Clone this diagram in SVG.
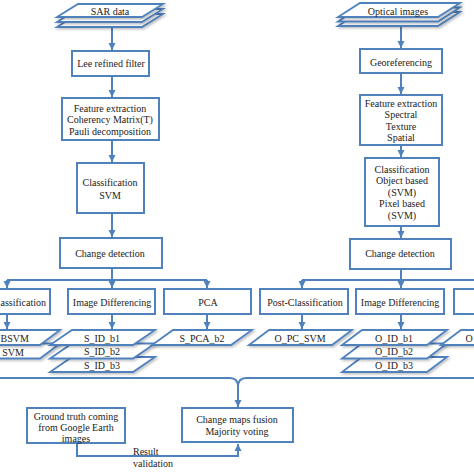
<svg xmlns="http://www.w3.org/2000/svg" width="474" height="474" viewBox="0 0 474 474">
<defs>
<marker id="ah" markerWidth="8" markerHeight="8" refX="7" refY="4" orient="auto" markerUnits="userSpaceOnUse"><path d="M0,0.5 L7,4 L0,7.5 Z" fill="#4f81bd"/></marker>
<filter id="sh" x="-10%" y="-20%" width="130%" height="160%"><feDropShadow dx="1.5" dy="1.5" stdDeviation="1" flood-color="#000" flood-opacity="0.25"/></filter>
</defs>
<style>
.b{fill:#fff;stroke:#4f81bd;stroke-width:2}
.p{fill:#fff;stroke:#4f81bd;stroke-width:1.8;filter:url(#sh)}
.c{fill:none;stroke:#4f81bd;stroke-width:2}
.a{fill:none;stroke:#4f81bd;stroke-width:2;marker-end:url(#ah)}
text{font-family:"Liberation Serif","Times New Roman",serif;font-size:10px;fill:#222;text-anchor:middle}
</style>
<rect width="474" height="474" fill="#fff"/>

<g id="connectors">
<path class="a" d="M112,27 V50"/>
<path class="a" d="M112,76 V97"/>
<path class="a" d="M112,140 V162"/>
<path class="a" d="M112,213 V237"/>
<path class="c" d="M112,268 V280 M7,280 H207"/>
<path class="a" d="M7,280 V288"/>
<path class="a" d="M112,280 V288"/>
<path class="a" d="M207,280 V288"/>
<path class="a" d="M7,314 V329"/>
<path class="a" d="M112,314 V329"/>
<path class="a" d="M207,314 V329"/>
<path class="a" d="M401,26 V48"/>
<path class="a" d="M401,73 V94"/>
<path class="a" d="M401,145 V157"/>
<path class="a" d="M401,226 V238"/>
<path class="c" d="M401,269 V280 M302,280 H480"/>
<path class="a" d="M302,280 V288"/>
<path class="a" d="M401,280 V288"/>
<path class="a" d="M498,280 V288"/>
<path class="a" d="M302,314 V329"/>
<path class="a" d="M401,314 V329"/>
<path class="c" d="M0,378 H230 Q238,378 238,387 M474,378 H246 Q238,378 238,387"/>
<path class="a" d="M238,386 V407"/>
<path class="a" d="M77,443 V456 H238 V444"/>
</g>

<g id="sar-data">
<polygon class="p" points="78,14 163,14 142,27 57,27"/>
<polygon class="p" points="78,9 163,9 142,22 57,22"/>
<polygon class="p" points="78,4 163,4 142,17 57,17"/>
<text x="110" y="15">SAR data</text>
</g>
<g id="optical-images">
<polygon class="p" points="360,12 460,12 438,26 338,26"/>
<polygon class="p" points="360,7.5 460,7.5 438,21.5 338,21.5"/>
<polygon class="p" points="360,3 460,3 438,17 338,17"/>
<text x="398" y="14.5">Optical images</text>
</g>

<g id="lee-filter"><rect class="b" x="72" y="51" width="77" height="25"/><text x="111" y="66.5">Lee refined filter</text></g>
<g id="sar-features"><rect class="b" x="62" y="98" width="97" height="42"/>
<text x="110" y="111.5">Feature extraction</text><text x="110" y="123">Coherency Matrix(T)</text><text x="110" y="134.5">Pauli decomposition</text></g>
<g id="sar-classification"><rect class="b" x="77" y="163" width="67" height="50"/>
<text x="110" y="185.5">Classification</text><text x="110" y="198.5">SVM</text></g>
<g id="sar-change"><rect class="b" x="60" y="238" width="102" height="30"/><text x="110" y="256.5">Change detection</text></g>
<g id="sar-postclass"><rect class="b" x="-38" y="289" width="88" height="25"/><text x="0.5" y="305.5" style="text-anchor:start">assification</text></g>
<g id="sar-imgdiff"><rect class="b" x="68" y="289" width="87" height="25"/><text x="112" y="305.5">Image Differencing</text></g>
<g id="sar-pca"><rect class="b" x="164" y="289" width="87" height="25"/><text x="208" y="305.5">PCA</text></g>

<g id="sar-pc-out">
<polygon class="p" points="-23,343.5 60,343.5 40,358.5 -43,358.5"/>
<polygon class="p" points="-23,330 60,330 40,345 -43,345"/>
<text x="0.5" y="341.5" style="text-anchor:start">BSVM</text>
<text x="24" y="355.5" style="text-anchor:end">SVM</text>
</g>
<g id="sar-id-out">
<polygon class="p" points="72,357 155,357 133,372 50,372"/>
<polygon class="p" points="72,343.5 155,343.5 133,358.5 50,358.5"/>
<polygon class="p" points="72,330 155,330 133,345 50,345"/>
<text x="102" y="341.5">S_ID_b1</text><text x="102" y="355">S_ID_b2</text><text x="102" y="368.5">S_ID_b3</text>
</g>
<g id="sar-pca-out">
<polygon class="p" points="173,330 252,330 231,345 152,345"/>
<text x="202" y="341.5">S_PCA_b2</text>
</g>

<g id="georef"><rect class="b" x="360" y="49" width="82" height="24"/><text x="401" y="65.5">Georeferencing</text></g>
<g id="opt-features"><rect class="b" x="360" y="95" width="82" height="50"/>
<text x="401" y="106.5">Feature extraction</text><text x="401" y="118">Spectral</text><text x="401" y="129.5">Texture</text><text x="401" y="141">Spatial</text></g>
<g id="opt-classification"><rect class="b" x="365" y="158" width="74" height="68"/>
<text x="402" y="172.5">Classification</text><text x="402" y="184">Object based</text><text x="402" y="195.5">(SVM)</text><text x="402" y="207">Pixel based</text><text x="402" y="218.5">(SVM)</text></g>
<g id="opt-change"><rect class="b" x="350" y="239" width="101" height="30"/><text x="400" y="256.5">Change detection</text></g>
<g id="opt-postclass"><rect class="b" x="260" y="289" width="88" height="25"/><text x="305" y="305.5">Post-Classification</text></g>
<g id="opt-imgdiff"><rect class="b" x="356" y="289" width="88" height="25"/><text x="400" y="305.5">Image Differencing</text></g>
<g id="opt-third"><rect class="b" x="454" y="289" width="88" height="25"/></g>

<g id="opt-pc-out">
<polygon class="p" points="269,330 352,330 332,345 249,345"/>
<text x="300" y="341.5">O_PC_SVM</text>
</g>
<g id="opt-id-out">
<polygon class="p" points="362,357 447,357 427,372 342,372"/>
<polygon class="p" points="362,343.5 447,343.5 427,358.5 342,358.5"/>
<polygon class="p" points="362,330 447,330 427,345 342,345"/>
<text x="394" y="341.5">O_ID_b1</text><text x="394" y="355">O_ID_b2</text><text x="394" y="368.5">O_ID_b3</text>
</g>
<g id="opt-third-out">
<polygon class="p" points="461,330 546,330 526,345 441,345"/>
<text x="465.5" y="341.5" style="text-anchor:start">O</text>
</g>

<g id="ground-truth"><rect class="b" x="27" y="408" width="98" height="35"/>
<text x="76" y="419.5">Ground truth coming</text><text x="76" y="431">from Google Earth</text><text x="76" y="442">images</text></g>
<g id="fusion"><rect class="b" x="182" y="408" width="111" height="34"/>
<text x="237" y="422.5">Change maps fusion</text><text x="237" y="434.5">Majority voting</text></g>
<g id="validation-label">
<text x="133" y="454.5" style="text-anchor:start">Result</text>
<text x="133" y="466.5" style="text-anchor:start">validation</text>
</g>
</svg>
